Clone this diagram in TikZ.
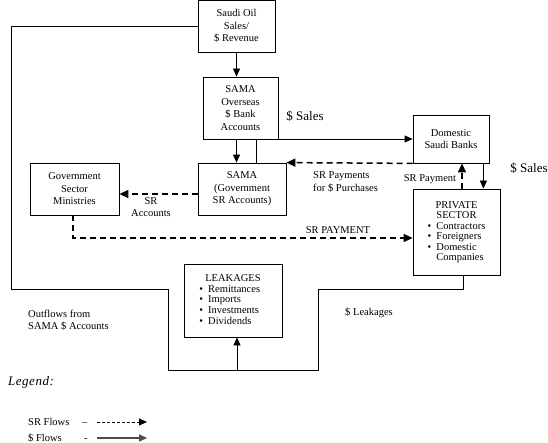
\documentclass[tikz,border=0pt]{standalone}
\usepackage{fontspec}
\setmainfont{Liberation Serif}
\usetikzlibrary{calc,arrows.meta}

\begin{document}
\begin{tikzpicture}[x=1pt,y=-1pt,
    box/.style={draw, line width=0.8pt, align=center, inner sep=0pt,
        font=\fontsize{10.5}{12.5}\selectfont},
    dflow/.style={line width=0.8pt, -{Triangle[length=8pt,width=7pt]}},
    srflow/.style={line width=1.5pt, dash pattern=on 6pt off 4pt,
        -{Triangle[length=9pt,width=8pt]}},
    lbl/.style={font=\fontsize{10.5}{12.5}\selectfont, align=center, inner sep=0pt},
    biglbl/.style={font=\fontsize{13}{15}\selectfont, inner sep=0pt}]
    \useasboundingbox (0,0) rectangle (548,443);
    % boxes
    \node[box, minimum width=77pt, minimum height=52pt] (oil) at (236.5,26)
        {Saudi Oil\\Sales/\\\$ Revenue};
    \node[box, minimum width=75pt, minimum height=62pt] (overseas) at (240.5,108)
        {SAMA\\Overseas\\\$ Bank\\Accounts};
    \node[box, minimum width=88pt, minimum height=52pt] (samagov) at (242,189)
        {SAMA\\(Government\\SR Accounts)};
    \node[box, minimum width=76pt, minimum height=48pt] (dom) at (451,139)
        {Domestic\\Saudi Banks};
    \node[box, minimum width=89pt, minimum height=52pt] (gov) at (74.5,189)
        {Government\\Sector\\Ministries};
    \node[box, minimum width=87pt, minimum height=86pt] (priv) at (456.5,232)
        {\begin{tabular}{@{}l@{\ \ }l@{}}
         \multicolumn{2}{c}{PRIVATE}\\[-2pt]
         \multicolumn{2}{c}{SECTOR}\\[-2pt]
         \textbullet & Contractors\\[-2pt]
         \textbullet & Foreigners\\[-2pt]
         \textbullet & Domestic\\[-2pt]
          & Companies
         \end{tabular}};
    \node[box, minimum width=98pt, minimum height=73pt] (leak) at (233,300.5)
        {\begin{tabular}{@{}l@{\ \ }l@{}}
         \multicolumn{2}{c}{LEAKAGES}\\[-2pt]
         \textbullet & Remittances\\[-2pt]
         \textbullet & Imports\\[-2pt]
         \textbullet & Investments\\[-2pt]
         \textbullet & Dividends
         \end{tabular}};
    % dollar flows
    \draw[dflow] (oil.south) -- (oil.south |- overseas.north);
    \draw[dflow] (oil.south |- overseas.south) -- (oil.south |- samagov.north);
    \draw[dflow] ($(samagov.north)+(14,0)$) |- (dom.west);
    \coordinate (dp) at ($(dom.south east)+(-6,0)$);
    \draw[dflow] (dp) -- (dp |- priv.north);
    \coordinate (jn) at (237,370);
    \draw[line width=0.8pt] (oil.west) -| (11,289) -| (168,370) -- (jn);
    \draw[line width=0.8pt] ($(priv.south)+(6.5,0)$) |- (318,289) |- (jn);
    \draw[dflow] (jn) -- (jn |- leak.south);
    % SR flows
    \draw[srflow] (dom.south west) -- (samagov.north east);
    \coordinate (pd) at ($(priv.north)+(5.5,0)$);
    \draw[srflow] (pd) -- (pd |- dom.south);
    \coordinate (sg) at ($(samagov.west)+(0,5)$);
    \draw[srflow] (sg) -- (sg -| gov.east);
    \draw[srflow] ($(gov.south)+(-1.5,0)$) |- ($(priv.west)+(0,6)$);
    % labels
    \node[biglbl] (sales1) at (305,116) {\$ Sales};
    \node[biglbl] (sales2) at (529,168) {\$ Sales};
    \node[lbl, align=left, anchor=west] (srpurch) at (313,182) {SR Payments\\for \$ Purchases};
    \node[lbl] (srpay) at (430,179) {SR Payment};
    \node[lbl] (srpaycap) at (338,230) {SR PAYMENT};
    \node[lbl] (sracc) at (151,207) {SR\\Accounts};
    \node[lbl, align=left, anchor=west] (outflows) at (28,320) {Outflows from\\SAMA \$ Accounts};
    \node[lbl] (leaklbl) at (369,313) {\$ Leakages};
    % legend
    \node[anchor=west, inner sep=0pt, font=\fontsize{13}{15}\itshape\addfontfeature{LetterSpace=4}]
        (legend) at (8,382) {Legend:};
    \node[lbl, anchor=west] (lgsr) at (28,422) {\makebox[54pt][l]{SR Flows}–};
    \node[lbl, anchor=west] (lgd) at (28,438) {\makebox[56pt][l]{\$ Flows}-};
    \coordinate (lgsrend) at (97,422);
    \coordinate (lgdend) at (97,438);
    \draw[line width=1pt, dash pattern=on 3pt off 2pt, -{Triangle[length=8pt,width=7pt]}]
        (lgsrend) -- ++(50,0);
    \draw[line width=1.5pt, black!70, -{Triangle[length=8pt,width=7pt]}]
        (lgdend) -- ++(50,0);
\end{tikzpicture}
\end{document}
